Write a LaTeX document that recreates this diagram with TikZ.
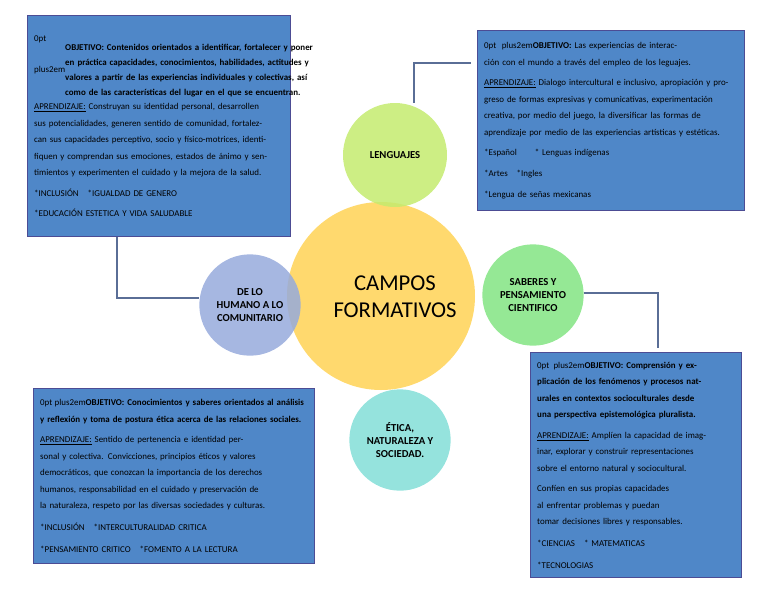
\documentclass[tikz,border=0pt]{standalone}
\usepackage{fontspec}
\setmainfont{Carlito}
\begin{document}
\begin{tikzpicture}[x=0.75pt,y=-0.75pt,
 box/.style={draw=blue!40!black!70, fill={rgb,255:red,79;green,135;blue,200}, line width=0.8pt, inner sep=5pt, align=center, font=\fontsize{6.7}{12.4}\selectfont\hyphenpenalty=10000, text=black},
 circ/.style={circle, draw=none, fill opacity=0.85, text opacity=1, align=center, font=\fontsize{8}{10}\selectfont\bfseries},
 conn/.style={draw={rgb,255:red,90;green,110;blue,150}, line width=0.9pt}]
\useasboundingbox (0,0) rectangle (768,594);
\definecolor{cy}{RGB}{255,217,110}
\node[circle, fill=cy, minimum size=141pt, inner sep=0] (main) at (381,296) {};
\node[circ, fill={rgb,255:red,196;green,235;blue,110}, minimum size=78pt] (len) at (395,155) {LENGUAJES};
\node[circ, fill={rgb,255:red,150;green,170;blue,220}, minimum size=76pt] (hum) at (250,305) {DE LO\\HUMANO A LO\\COMUNITARIO};
\node[circ, fill={rgb,255:red,130;green,228;blue,130}, minimum size=76pt] (sab) at (533,295) {SABERES Y\\PENSAMIENTO\\CIENTIFICO};
\node[circ, fill={rgb,255:red,130;green,222;blue,215}, minimum size=76pt] (eti) at (400,440) {ÉTICA,\\NATURALEZA Y\\SOCIEDAD.};
\node[font=\fontsize{17}{20}\selectfont, align=center] (mt) at (395,297) {CAMPOS\\FORMATIVOS};

\node[box, text width=187.5pt, minimum height=166pt, anchor=north west] (tl) at (27,15) {%
\parbox{187.5pt}{\fontsize{6.7}{11.2}\selectfont\hyphenpenalty=10000\textbf{OBJETIVO: Contenidos orientados a identificar, fortalecer y poner en práctica capacidades, conocimientos, habilidades, actitudes y valores a partir de las experiencias individuales y colectivas, así como de las características del lugar en el que se encuentran.}}\\[4pt]
\underline{APRENDIZAJE:} Construyan su identidad personal, desarrollen sus potencialidades, generen sentido de comunidad, fortalezcan sus capacidades perceptivo, socio y físico-motrices, identifiquen y comprendan sus emociones, estados de ánimo y sentimientos y experimenten el cuidado y la mejora de la salud.\\[3pt]
*INCLUSIÓN\quad *IGUALDAD DE GENERO\\[3pt]
*EDUCACIÓN ESTETICA Y VIDA SALUDABLE};

\node[box, text width=190pt, minimum height=135pt, anchor=north west] (tr) at (477,30) {%
\textbf{OBJETIVO:} Las experiencias de interacción con el mundo a través del empleo de los leguajes.\\[3pt]
\underline{APRENDIZAJE:} Dialogo intercultural e inclusivo, apropiación y progreso de formas expresivas y comunicativas, experimentación creativa, por medio del juego, la diversificar las formas de aprendizaje por medio de las experiencias artísticas y estéticas.\\[3pt]
*Español\qquad * Lenguas indígenas\\[3pt]
*Artes\quad *Ingles\\[3pt]
*Lengua de señas mexicanas};

\node[box, text width=201pt, minimum height=131pt, anchor=north west] (bl) at (33,388) {%
\textbf{OBJETIVO: Conocimientos y saberes orientados al análisis y reflexión y toma de postura ética acerca de las relaciones sociales.}\\[3pt]
\underline{APRENDIZAJE:} Sentido de pertenencia e identidad personal y colectiva. Convicciones, principios éticos y valores democráticos, que conozcan la importancia de los derechos humanos, responsabilidad en el cuidado y preservación de la naturaleza, respeto por las diversas sociedades y culturas.\\[4pt]
*INCLUSIÓN\quad *INTERCULTURALIDAD CRITICA\\[4pt]
*PENSAMIENTO CRITICO\quad *FOMENTO A LA LECTURA};

\node[box, text width=148pt, minimum height=169pt, anchor=north west] (br) at (530,352) {%
\textbf{OBJETIVO: Comprensión y explicación de los fenómenos y procesos naturales en contextos socioculturales desde una perspectiva epistemológica pluralista.}\\[3pt]
\underline{APRENDIZAJE:} Amplíen la capacidad de imaginar, explorar y construir representaciones sobre el entorno natural y sociocultural.\\[3pt]
Confíen en sus propias capacidades al enfrentar problemas y puedan tomar decisiones libres y responsables.\\[4pt]
*CIENCIAS\quad * MATEMATICAS\\[4pt]
*TECNOLOGIAS};

\coordinate (c1) at (117,298);
\draw[conn] (tl.south -| c1) -- (c1) -- (hum.west |- c1);
\coordinate (c2) at (414,63);
\draw[conn] (len.north -| c2) -- (c2) -- (471,63) coordinate (c2e);
\coordinate (c3) at (658,293);
\draw[conn] (sab.east |- c3) -- (c3) -- (658,348) coordinate (c3e);
\end{tikzpicture}
\end{document}
